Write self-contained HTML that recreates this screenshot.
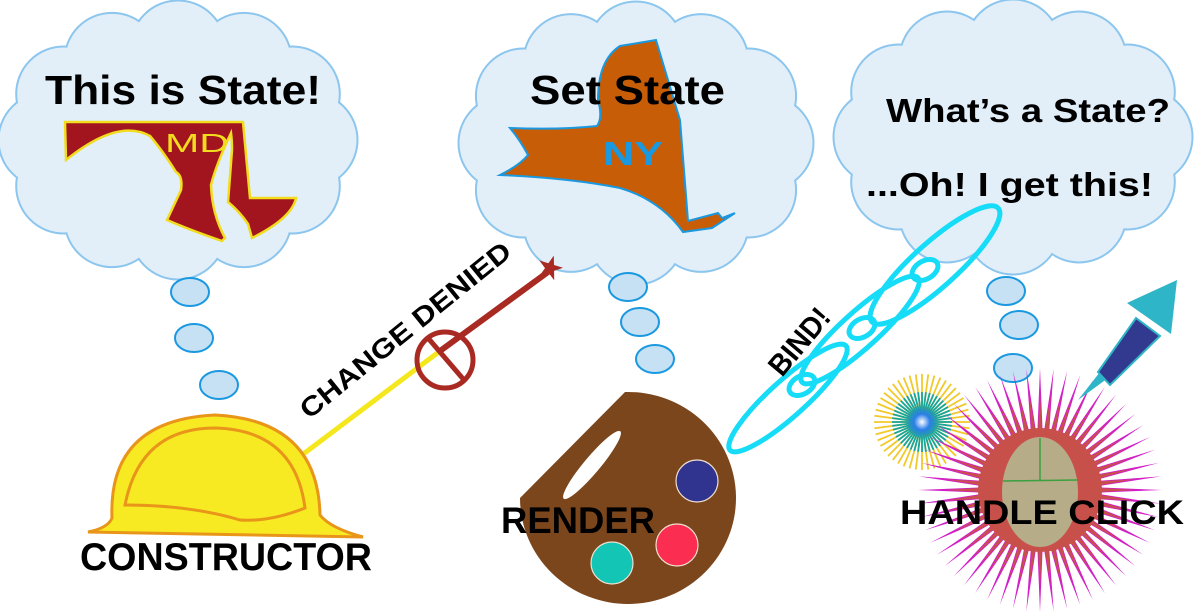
<!DOCTYPE html>
<html><head><meta charset="utf-8"><style>
html,body{margin:0;padding:0;background:#fff;}
svg{display:block;font-family:"Liberation Sans",sans-serif;font-weight:bold;}
</style></head><body>
<svg id="s" width="1200" height="612" viewBox="0 0 1200 612" xmlns="http://www.w3.org/2000/svg">
<g id="clouds"></g>
<g fill="#c7e1f4" stroke="#1a98e0" stroke-width="2">
<ellipse cx="190" cy="292" rx="19" ry="14"/><ellipse cx="194" cy="338" rx="19" ry="14"/><ellipse cx="219" cy="385" rx="19" ry="14"/>
<ellipse cx="628" cy="287" rx="19" ry="14"/><ellipse cx="640" cy="322" rx="19" ry="14"/><ellipse cx="655" cy="359" rx="19" ry="14"/>
<ellipse cx="1006" cy="291" rx="19" ry="14"/><ellipse cx="1019" cy="325" rx="19" ry="14"/><ellipse cx="1013" cy="368" rx="19" ry="14"/>
</g>
<path d="M66,160 L65,122 L243,122 L250,198 L296,198 Q292,218 252,238 L248,224 Q240,212 228,202 L232,150 Q232,140 231,133 Q216,165 211,185 Q212,214 225,238 L222,241 Q190,230 167,220 L181,190 Q183,176 176,172 Q162,150 150,136 Q118,118 66,160 Z" fill="#a2141e" stroke="#f2dc1e" stroke-width="2.5"/>
<text x="165" y="152" font-size="26" font-weight="normal" fill="#f2dc1e" textLength="64" lengthAdjust="spacingAndGlyphs">MD</text>
<path d="M656,40 L680,120 L688,221 L718,213 L722,218 L735,213 L712,228 L683,232 Q660,200 620,188 Q570,178 500,175 Q520,165 528,155 Q520,140 510,128 Q560,130 597,126 Q603,118 598,100 Q598,60 620,46 Z" fill="#c75d07" stroke="#1a98e0" stroke-width="2"/>
<text x="603" y="165" font-size="33" fill="#1a98e0" textLength="60" lengthAdjust="spacingAndGlyphs">NY</text>
<text x="45" y="104" font-size="41" fill="#000" textLength="276" lengthAdjust="spacingAndGlyphs">This is State!</text>
<text x="530" y="104" font-size="41" fill="#000" textLength="195" lengthAdjust="spacingAndGlyphs">Set State</text>
<text x="886" y="122" font-size="33" fill="#000" textLength="284" lengthAdjust="spacingAndGlyphs">What’s a State?</text>
<text x="866" y="196" font-size="33" fill="#000" textLength="287" lengthAdjust="spacingAndGlyphs">...Oh! I get this!</text>
<line x1="302" y1="455" x2="440" y2="351" stroke="#f5e71e" stroke-width="5"/>
<line x1="440" y1="351" x2="548" y2="272" stroke="#a82a22" stroke-width="6"/>
<polygon id="star" fill="#a82a22" points=""/>
<circle cx="445" cy="360" r="28" fill="none" stroke="#a82a22" stroke-width="5"/>
<line x1="428" y1="338" x2="464" y2="380" stroke="#a82a22" stroke-width="5"/>
<text font-size="27" fill="#000" transform="translate(309,420) rotate(-39)" textLength="263" lengthAdjust="spacingAndGlyphs">CHANGE DENIED</text>
<path d="M88,532 Q108,528 112,518 Q108,420 215,415 Q318,420 320,515 Q330,528 363,537 Z" fill="#f7ea22" stroke="#e8951a" stroke-width="3"/>
<path d="M125,505 Q140,428 215,428 Q295,430 305,508 Q270,522 240,520 Q190,505 125,505 Z" fill="none" stroke="#e8951a" stroke-width="3"/>
<text x="80" y="570" font-size="39" fill="#000" textLength="292" lengthAdjust="spacingAndGlyphs">CONSTRUCTOR</text>
<path d="M625,392 A108,106 0 1 1 520,498 Z" fill="#7b461c"/>
<ellipse cx="592" cy="465" rx="44" ry="8" fill="#fff" transform="rotate(-50 592 465)"/>
<g stroke="#f0e0d0" stroke-width="1.2">
<circle cx="697" cy="481" r="21" fill="#31348e"/>
<circle cx="677" cy="545" r="21" fill="#fb2d50"/>
<circle cx="612" cy="563" r="21" fill="#12c5b5"/>
</g>
<text x="501" y="533" font-size="37" fill="#000" textLength="154" lengthAdjust="spacingAndGlyphs">RENDER</text>
<g fill="none" stroke="#17dcf8" stroke-width="5">
<ellipse cx="788" cy="398" rx="78" ry="18" transform="rotate(-42 788 398)"/>
<ellipse cx="860" cy="330" rx="78" ry="18" transform="rotate(-42 860 330)"/>
<ellipse cx="935" cy="265" rx="85" ry="22" transform="rotate(-42 935 265)"/>
<ellipse cx="802" cy="385" rx="14" ry="9" transform="rotate(-30 802 385)"/>
<ellipse cx="862" cy="328" rx="14" ry="9" transform="rotate(-30 862 328)"/>
<ellipse cx="925" cy="270" rx="14" ry="9" transform="rotate(-30 925 270)"/>
</g>
<text font-size="30" fill="#000" transform="translate(782,378) rotate(-50)" textLength="78" lengthAdjust="spacingAndGlyphs">BIND!</text>
<defs>
<radialGradient id="bc"><stop offset="0" stop-color="#fff"/><stop offset="0.5" stop-color="#2a7ee8"/><stop offset="1" stop-color="#2a7ee8" stop-opacity="0"/></radialGradient>
</defs>
<g id="small"></g>
<g id="big"></g>
<circle cx="1040" cy="490" r="62" fill="#c8504a"/>
<ellipse cx="1040" cy="492" rx="38" ry="55" fill="#b6ac87"/>
<line x1="1040" y1="438" x2="1040" y2="481" stroke="#3aa040" stroke-width="1.5"/>
<line x1="1003" y1="481" x2="1077" y2="480" stroke="#3aa040" stroke-width="1.5"/>
<polygon points="1078,400 1100,372 1108,378" fill="#2fb5c8"/>
<polygon points="1098,372 1136,318 1160,336 1110,385" fill="#313a8f" stroke="#2fb5c8" stroke-width="2"/>
<polygon points="1127,303 1177,280 1171,334" fill="#2fb5c8"/>
<text x="900" y="524" font-size="34" fill="#000" textLength="284" lengthAdjust="spacingAndGlyphs">HANDLE CLICK</text>
</svg>
<script>
var NS="http://www.w3.org/2000/svg";
function el(p,t,a){var e=document.createElementNS(NS,t);for(var k in a)e.setAttribute(k,a[k]);p.appendChild(e);return e;}
var cg=document.getElementById("clouds");
function cloud(cx,cy,a,b,r,n){
  var pts=[];for(var i=0;i<n;i++){var t=i/n*2*Math.PI;pts.push([cx+a*Math.cos(t),cy+b*Math.sin(t)]);}
  pts.forEach(function(p){el(cg,"circle",{cx:p[0],cy:p[1],r:r,fill:"#e2eff9",stroke:"#8cc6ee","stroke-width":3});});
  pts.forEach(function(p){el(cg,"circle",{cx:p[0],cy:p[1],r:r-0.5,fill:"#e2eff9"});});
  el(cg,"ellipse",{cx:cx,cy:cy,rx:a,ry:b,fill:"#e2eff9"});
}
cloud(178,140,132,92,47,12);
cloud(636,143,130,94,47,12);
cloud(1013,137,132,90,47,12);
var sp=[];for(var i=0;i<10;i++){var t=-Math.PI/2+i*Math.PI/5+0.3;var r=i%2?5:13;sp.push((550+r*Math.cos(t)).toFixed(1)+","+(268+r*Math.sin(t)).toFixed(1));}
document.getElementById("star").setAttribute("points",sp.join(" "));
function burst(g,cx,cy,R,r0,n,col,w){for(var i=0;i<n;i++){var t=i/n*2*Math.PI;var a=t-w,b=t+w;
 el(g,"polygon",{points:(cx+r0*Math.cos(a))+","+(cy+r0*Math.sin(a))+" "+(cx+R*Math.cos(t))+","+(cy+R*Math.sin(t))+" "+(cx+r0*Math.cos(b))+","+(cy+r0*Math.sin(b)),fill:col});}}
var bg=document.getElementById("big");
burst(bg,1040,490,122,55,56,"#d21fc8",0.05);
burst(bg,1040,490,95,55,56,"#c8504a",0.04);
var sg=document.getElementById("small");
for(var i=0;i<48;i++){var t=i/48*2*Math.PI;el(sg,"line",{x1:922,y1:422,x2:922+48*Math.cos(t),y2:422+48*Math.sin(t),stroke:"#f2c92a","stroke-width":1.8});
 el(sg,"line",{x1:922,y1:422,x2:922+30*Math.cos(t),y2:422+30*Math.sin(t),stroke:"#17a59c","stroke-width":1.8});}
el(sg,"circle",{cx:922,cy:422,r:16,fill:"url(#bc)"});
</script>
</body></html>
